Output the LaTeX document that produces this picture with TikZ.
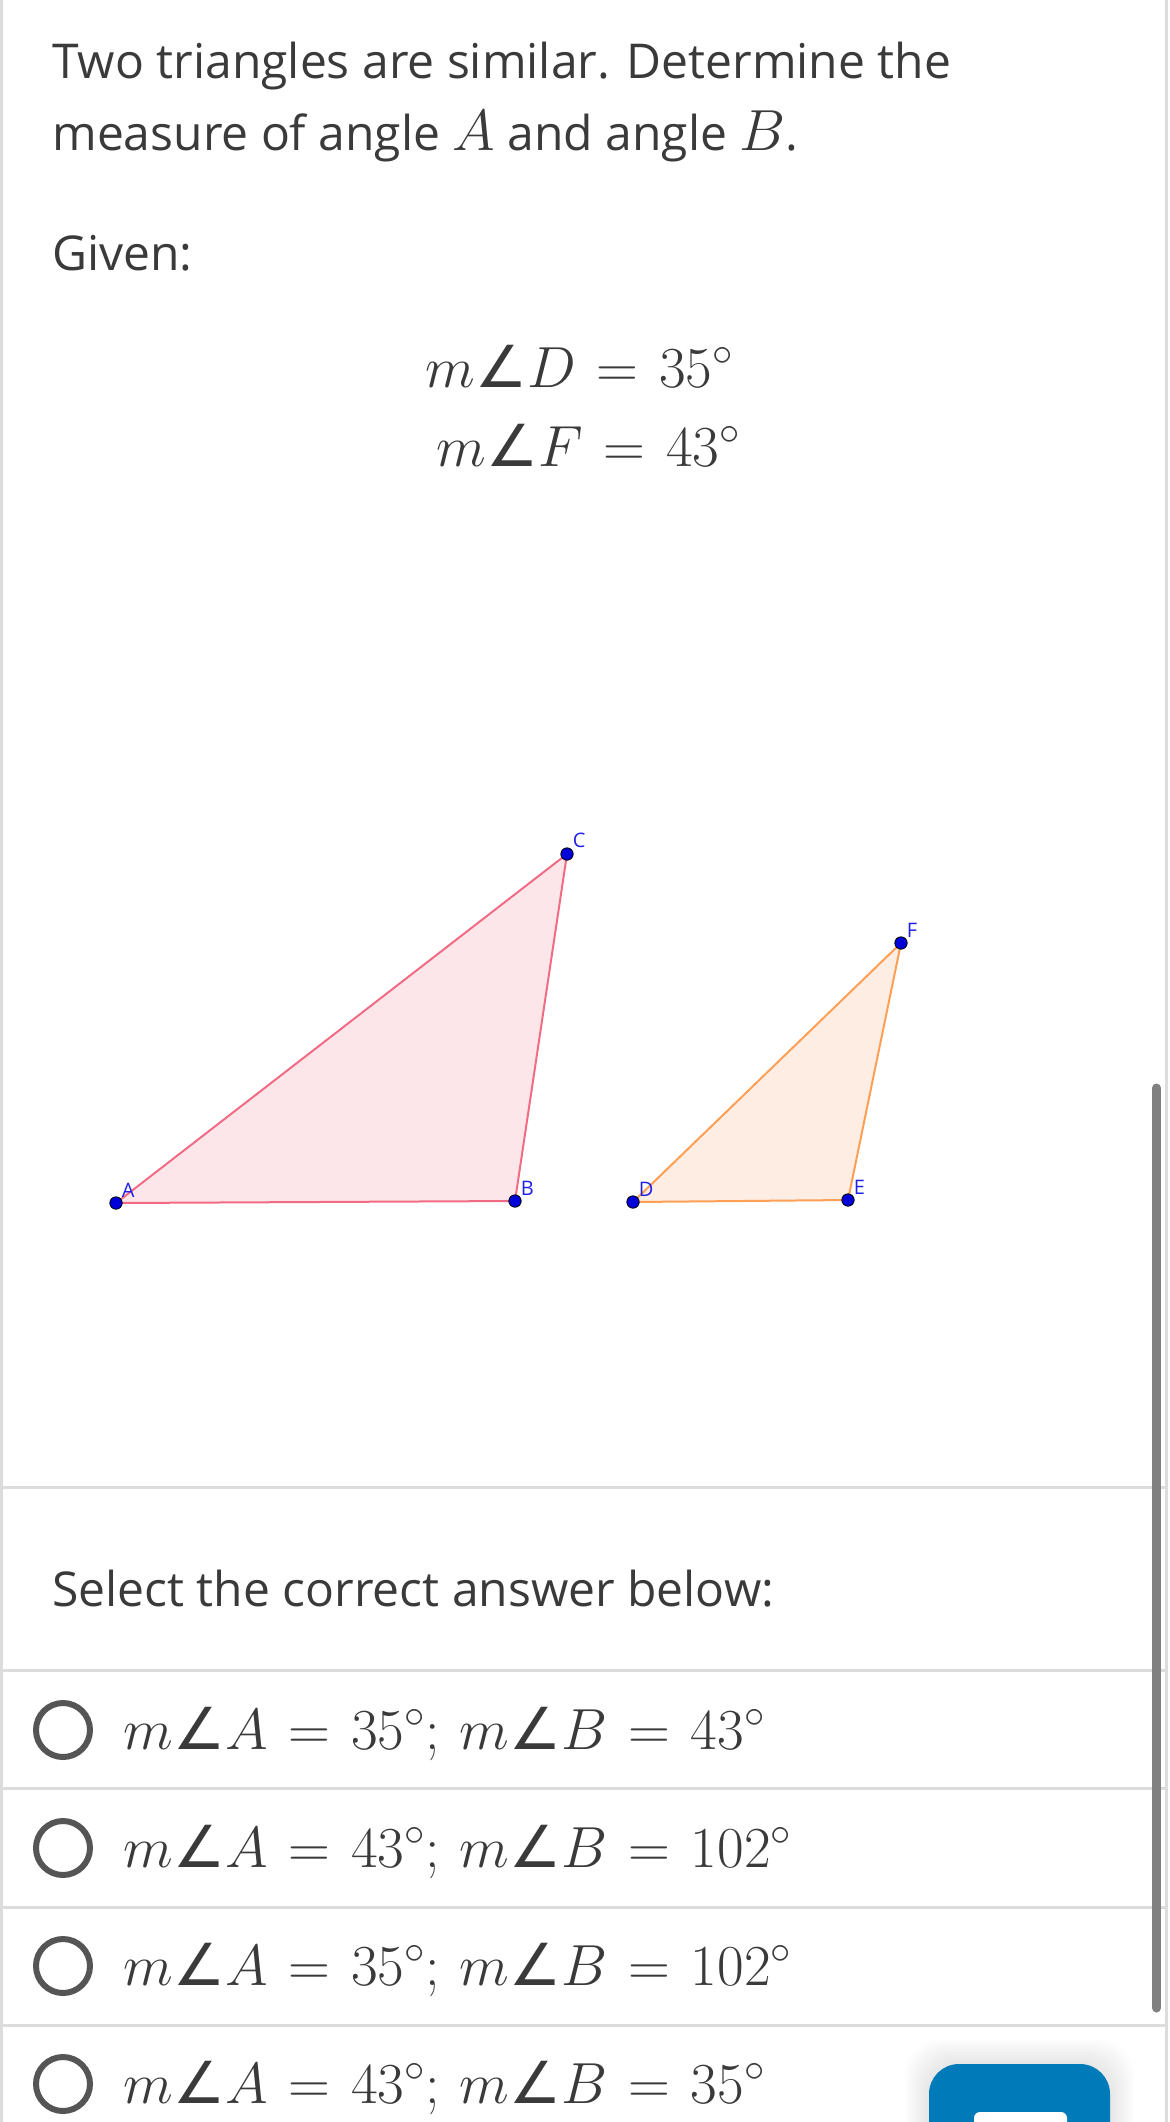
\RequirePackage{fix-cm}
\documentclass[tikz,border=0pt]{standalone}
\usepackage[no-math]{fontspec}
\setmainfont{Open Sans}
\newfontfamily\angfont{DejaVu Sans}

\definecolor{textgray}{HTML}{3A3A3A}
\definecolor{rulegray}{HTML}{DCDCDC}
\definecolor{pinkline}{HTML}{F26B85}
\definecolor{pinkfill}{HTML}{FDE6EA}
\definecolor{orangeline}{HTML}{FF9F55}
\definecolor{orangefill}{HTML}{FDEDE2}
\definecolor{ptblue}{HTML}{0000D8}
\definecolor{labblue}{HTML}{2020E6}
\definecolor{radiogray}{HTML}{555555}
\definecolor{btnblue}{HTML}{007AB8}
\definecolor{scrollgray}{HTML}{808080}

\thickmuskip=6.5mu\relax
\newcommand\kmath[1]{{\fontsize{29}{35}\selectfont$#1$}}
\newcommand\ang{\mathord{\mbox{\angfont ∠}}}

\tikzset{
  qtext/.style={anchor=base west, inner sep=0pt, text=textgray, font=\fontsize{24}{29}\selectfont},
  qmath/.style={anchor=base west, inner sep=0pt, text=textgray, font=\fontsize{29}{35}\selectfont},
  rule/.style={draw=rulegray, line width=1.5pt},
  vtx/.style={circle, fill=ptblue, draw=black, line width=0.4pt, inner sep=0pt, minimum size=6.2pt},
  lab/.style={text=labblue, font=\fontsize{10}{10}\selectfont, inner sep=1.5pt},
  radio/.style={draw=radiogray, line width=3pt}
}

\begin{document}
\begin{tikzpicture}[x={(0.5pt,0)}, y={(0,-0.5pt)}]
\useasboundingbox (0,0) rectangle (1170,2122);
\clip (0,0) rectangle (1170,2122);
% page frame
\draw[rule] (1.5,0) -- (1.5,2122);
\draw[rule] (1166,0) -- (1166,2122);
% question
\node[qtext] (q1) at (52,78) {Two triangles are similar. Determine the};
\node[qtext] (q2) at (52,150) {measure of angle \kmath{A} and angle \kmath{B}.};
\node[qtext] (given) at (52,270) {Given:};
\node[qmath] (gd) at (425,387) {$m\ang D = 35^\circ$};
\node[qmath] (gf) at (436,466) {$m\ang F = 43^\circ$};
% triangles
\coordinate (A) at (116,1203);
\coordinate (B) at (515,1201);
\coordinate (C) at (567,854);
\coordinate (D) at (633,1202);
\coordinate (E) at (848,1200);
\coordinate (F) at (901,943);
\draw[pinkline, fill=pinkfill, line width=1pt, line join=round] (A) -- (B) -- (C) -- cycle;
\draw[orangeline, fill=orangefill, line width=1pt, line join=round] (D) -- (E) -- (F) -- cycle;
\foreach \p in {A,B,C,D,E,F}
  \node[vtx, label={[lab, label distance=-1.5pt]above right:\p}] (pt\p) at (\p) {};
% answers
\draw[rule] (0,1487) -- (1166,1487);
\node[qtext] (sel) at (52,1606) {Select the correct answer below:};
\foreach \y in {1670,1788,1907,2025}
  \draw[rule] (0,\y) -- (1166,\y);
\foreach \y/\a/\b [count=\i] in {1749/35/43, 1867/43/102, 1985/35/102, 2103/43/35} {
  \draw[radio] (63,\y-19) circle[radius=13.5pt];
  \node[qmath] (opt\i) at (123,\y) {$m\ang A = \a^\circ;\, m\ang B = \b^\circ$};
}
% scrollbar
\draw[scrollgray, line width=4.5pt, line cap=round] (1156.5,1088) -- (1156.5,2008);
% button
\foreach \s in {3,6,...,24}
  \fill[black, opacity=0.012, rounded corners=18pt] (929-\s,2064-\s) rectangle (1110+\s,2180);
\fill[btnblue, rounded corners=15pt] (929,2064) rectangle (1110,2180);
\fill[white, rounded corners=3pt] (974,2112) rectangle (1067,2132);
\end{tikzpicture}
\end{document}
